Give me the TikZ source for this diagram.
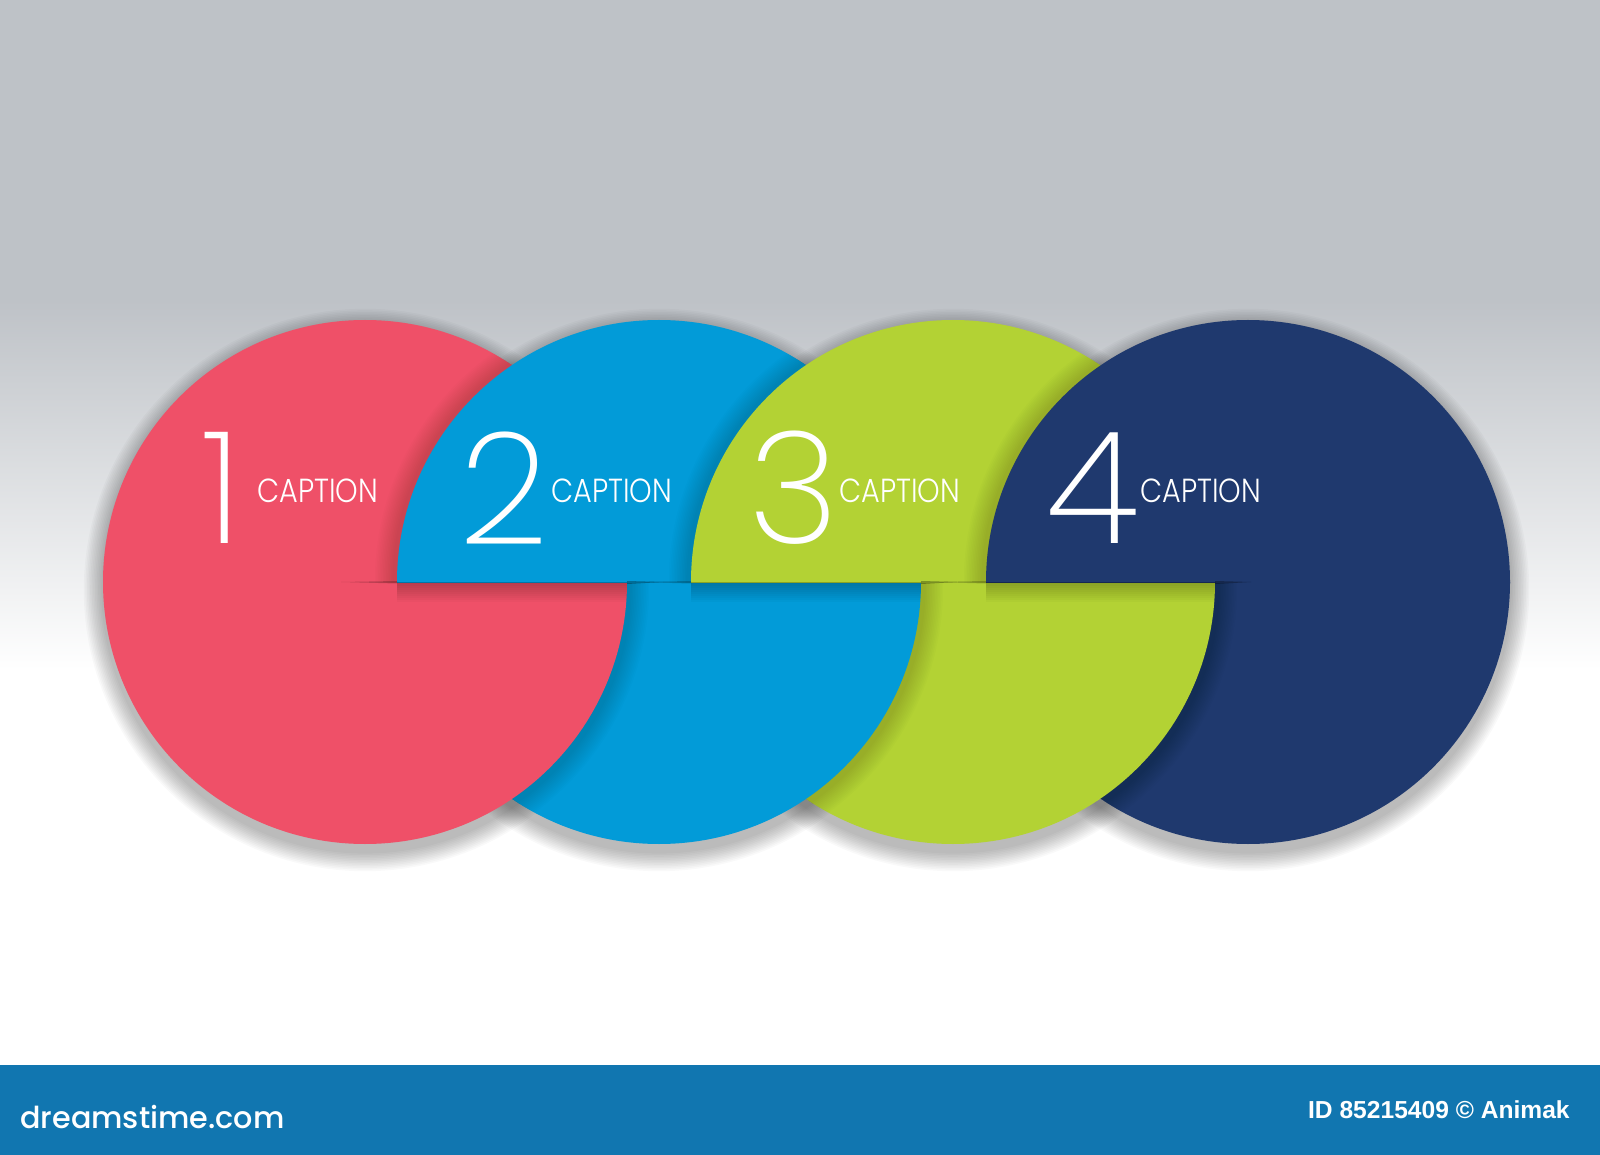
\documentclass[tikz,border=0pt]{standalone}
\usepackage{fontspec}
\usetikzlibrary{positioning}
\setmainfont{Poppins}
\newfontfamily\numfont{Poppins}[UprightFont={* ExtraLight}]
\newfontfamily\capfont{Poppins}[UprightFont={* Light}, FakeStretch=0.86]
\newfontfamily\logofont{Poppins}[UprightFont={* Medium}]
\newfontfamily\idfont{Liberation Sans}[UprightFont={* Bold}]

\definecolor{bggray}{RGB}{190,194,199}
\definecolor{stepred}{RGB}{239,80,104}
\definecolor{stepblue}{RGB}{2,155,216}
\definecolor{stepgreen}{RGB}{179,210,52}
\definecolor{stepnavy}{RGB}{31,57,110}
\definecolor{barblue}{RGB}{17,118,176}

\tikzstyle{stepnum} = [inner sep=0pt, text=white, font=\numfont\fontsize{89}{89}\selectfont]
\tikzstyle{captext} = [inner sep=0pt, anchor=base west, text=white, font=\capfont\fontsize{19}{19}\selectfont]
\tikzstyle{logotext} = [inner sep=0pt, anchor=base west, text=white, font=\logofont\fontsize{17.2}{17.2}\selectfont]
\tikzstyle{idtext} = [inner sep=0pt, anchor=base east, text=white, font=\idfont\fontsize{14}{14}\selectfont]

% blurred shadow: x, y, radius, strength
\newcommand{\softshadow}[4]{\foreach \k in {1,...,12}{\fill[black,opacity=#4] (#1,#2) circle [radius=#3+\k*1.6];}}

\begin{document}
\begin{tikzpicture}[x=0.02cm, y=-0.02cm]
\useasboundingbox (0,0) rectangle (1600,1155);

% background
\fill[bggray] (0,0) rectangle (1600,301);
\shade[top color=bggray, bottom color=white] (0,300) rectangle (1600,670);
\fill[white] (0,669) rectangle (1600,1065);

% shadow of the circles
\foreach \cx in {365,659,953,1248} {\softshadow{\cx}{590}{262}{0.022}}

% lower halves, right to left
\begin{scope}
\clip (0,582) rectangle (1600,1065);
\fill[stepnavy] (1248,582) circle [radius=262];
\foreach \cx/\nx/\col in {953/1248/stepgreen, 659/953/stepblue, 365/659/stepred} {
  \begin{scope}
  \clip (\nx,582) circle [radius=262];
  \softshadow{\cx+3}{586}{262}{0.011}
  \end{scope}
  \fill[\col] (\cx,582) circle [radius=262];
}
\end{scope}

% upper halves, left to right
\begin{scope}
\clip (0,0) rectangle (1600,582);
\fill[stepred] (365,582) circle [radius=262];
\foreach \px/\cx/\col in {365/659/stepblue, 659/953/stepgreen, 953/1248/stepnavy} {
  \begin{scope}
  \clip (\px,582) circle [radius=262];
  \softshadow{\cx-3}{582}{262}{0.011}
  \end{scope}
  \fill[\col] (\cx,582) circle [radius=262];
}
\end{scope}

% shade under the cut
\foreach \px/\cx in {365/659, 659/953, 953/1248} {
  \begin{scope}
  \clip (\px,582) circle [radius=262];
  \clip (\cx-262,582) rectangle (1600,640);
  \foreach \k in {1,...,10} {\fill[black,opacity=0.022] (\cx-262,582) rectangle (\cx+262,582+\k*2);}
  \end{scope}
  \fill[black,opacity=0.2] (\cx-262,581) -- (\cx-318,582) -- (\cx-262,583.5) -- cycle;
  \fill[black,opacity=0.3] (\px+262,581) -- (\px+298,582) -- (\px+262,584) -- cycle;
}

% numbers and captions
\foreach \i/\nx/\cxp in {1/222/257, 2/504/551, 3/794/839, 4/1093/1140} {
  \node[stepnum] (num\i) at (\nx,488) {\i};
  \node[captext] (cap\i) at (\cxp,502) {CAPTION};
}

% bottom bar
\fill[barblue] (0,1065) rectangle (1600,1155);
\node[logotext] (logo) at (20,1128) {dreamstime.com};
\node[idtext] (imgid) at (1570,1118) {ID 85215409 © Animak};

\end{tikzpicture}
\end{document}
